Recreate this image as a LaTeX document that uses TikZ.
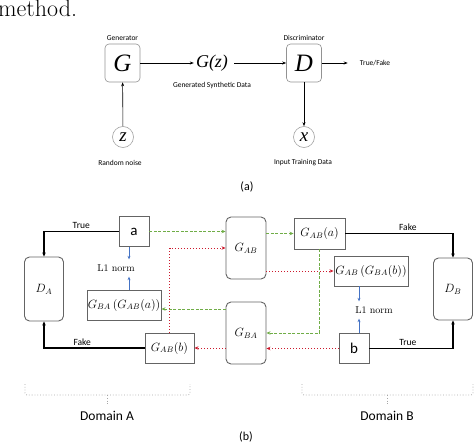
\documentclass[tikz,border=0pt]{standalone}
\usepackage{fontspec}
\newfontfamily\calib{Carlito}
\newfontfamily\timesf{Liberation Serif}
\usetikzlibrary{arrows.meta,positioning}
\definecolor{gline}{RGB}{112,173,71}
\definecolor{rline}{RGB}{205,25,45}
\definecolor{bline}{RGB}{68,114,196}
\definecolor{bord}{RGB}{100,100,100}
\begin{document}
\begin{tikzpicture}[x=1pt,y=-1pt,
  every node/.style={inner sep=0pt},
  lbl/.style={font=\calib\fontsize{7.5}{9}\selectfont},
  lblb/.style={font=\calib\fontsize{9.5}{11}\selectfont},
  big/.style={font=\timesf\itshape\fontsize{25}{25}\selectfont},
  mth/.style={font=\fontsize{12}{14}\selectfont},
  rbox/.style={draw=bord!70,rounded corners=4pt,line width=0.6pt},
  rboxb/.style={draw=bord,rounded corners=5pt,line width=0.9pt,mth},
  sbox/.style={draw=bord,line width=0.9pt,mth},
  cir/.style={draw=bord!60,circle,minimum size=21,line width=0.6pt},
  arr/.style={-{Stealth[length=4pt,width=3pt]},line width=0.6pt},
  blk/.style={-{Stealth[length=4pt,width=3.5pt]},line width=1.1pt},
  grn/.style={-{Stealth[length=4pt,width=3.5pt]},gline,dash pattern=on 3pt off 1.5pt,line width=1pt},
  rdot/.style={-{Stealth[length=4pt,width=3.5pt]},rline,dotted,line width=1pt},
  barr/.style={-{Stealth[length=3.5pt,width=3pt]},bline,line width=0.9pt},
  brc/.style={draw=gray!70,dotted,line width=0.8pt,rounded corners=2pt}]
  \useasboundingbox (0,0) rectangle (474,444);
  \node[anchor=base west] (title) at (-2,17) {\fontsize{24}{24}\selectfont method.};

  % (a) plain GAN
  \node[rbox,minimum width=35,minimum height=38,big] (G) at (122.5,63) {G};
  \node[lbl,above=3pt of G] (gname) {Generator};
  \node[font=\timesf\itshape\fontsize{18}{18}\selectfont] (Gz) at (212,63) {G(z)};
  \node[lbl] (gsd) at (212,86) {Generated Synthetic Data};
  \node[rbox,minimum width=35,minimum height=38,big] (D) at (304,63) {D};
  \node[lbl,above=3pt of D] (dname) {Discriminator};
  \node[lbl] (tf) at (375,63) {True/Fake};
  \node[cir,font=\timesf\itshape\fontsize{19}{19}\selectfont] (z) at (123,137) {z};
  \node[lbl] (noise) at (120,163) {Random noise};
  \node[cir,font=\timesf\itshape\fontsize{19}{19}\selectfont] (x) at (304,137) {x};
  \node[lbl] (itd) at (303,163) {Input Training Data};
  \node[font=\calib\fontsize{12}{14}\selectfont] (capa) at (247,187) {(a)};
  \draw[arr] (G) -- ([xshift=-2pt]Gz.west);
  \draw[arr,shorten <=6pt] (Gz) -- (D);
  \draw[arr,shorten >=12pt] (D) -- (tf);
  \draw[arr] (z) -- (G);
  \draw[arr] (D) -- (x);

  % (b) CycleGAN
  \node[rboxb,minimum width=39,minimum height=64] (DA) at (44,289) {$D_A$};
  \node[sbox,minimum size=30,font=\calib\fontsize{15}{15}\selectfont] (a) at (134,231.5) {a};
  \node[sbox,minimum width=74,minimum height=30] (gbaa) at (124,305) {$G_{BA}\,(G_{AB}(a))$};
  \node[sbox,minimum width=49,minimum height=30] (gabb) at (169.5,348) {$G_{AB}(b)$};
  \node[rboxb,minimum width=40,minimum height=62] (GAB) at (246,248) {$G_{AB}$};
  \node[rboxb,minimum width=40,minimum height=62] (GBA) at (246,333) {$G_{BA}$};
  \node[sbox,minimum width=51,minimum height=31] (gaba) at (319.5,233.5) {$G_{AB}(a)$};
  \node[sbox,minimum width=74,minimum height=30] (gabba) at (371,271) {$G_{AB}\,(G_{BA}(b))$};
  \node[rboxb,minimum width=39,minimum height=62] (DB) at (453,289) {$D_B$};
  \node[sbox,minimum size=30,font=\calib\fontsize{15}{15}\selectfont] (b) at (354,348.5) {b};
  \node[inner sep=5pt,font=\fontsize{10}{12}\selectfont] (l1a) at (116,268) {L1 norm};
  \node[inner sep=5pt,font=\fontsize{10}{12}\selectfont] (l1b) at (374,310) {L1 norm};

  \draw[blk] (a.west) -| node[lblb,above=2pt,pos=.25] {True} (DA.north);
  \draw[blk] (gabb.west) -| node[lblb,above=2pt,pos=.31] {Fake} (DA.south);
  \draw[blk] (gaba.east) -| node[lblb,above=2pt,pos=.29] {Fake} (DB.north);
  \draw[blk] (b.east) -| node[lblb,above=2pt,pos=.23] {True} (DB.south);

  \coordinate (gin) at ([yshift=-4pt]gbaa.east);
  \draw[grn] (a.east) -- (a.east -| GAB.west);
  \draw[grn] (GAB.east |- gaba.west) -- (gaba.west);
  \draw[grn] (gaba.south) |- (GBA.east);
  \draw[grn] (GBA.west |- gin) -- (gin);

  \draw[rdot] (gabb.north) |- (GAB.west);
  \draw[rdot] (GAB.east |- gabba.west) -- (gabba.west);
  \draw[rdot] (b.west) -- (b.west -| GBA.east);
  \draw[rdot] (GBA.west |- gabb.east) -- (gabb.east);

  % L1 norm arrows
  \coordinate (ua) at ([xshift=-5pt]a.south);
  \coordinate (ub) at ([xshift=5pt]b.north);
  \draw[barr] (ua) -- (ua |- l1a.north);
  \draw[barr] (ua |- gbaa.north) -- (ua |- l1a.south);
  \draw[barr] (ub |- gabba.south) -- (ub |- l1b.north);
  \draw[barr] (ub) -- (ub |- l1b.south);

  % domains
  \draw[brc] (25,384) -- (25,395) -- (190,395) -- (190,384);
  \draw[brc] (107,395) -- (107,405);
  \draw[brc] (302,384) -- (302,395) -- (473,395) -- (473,384);
  \draw[brc] (387,395) -- (387,405);
  \node[font=\calib\fontsize{13.5}{15}\selectfont] (doma) at (107,416) {Domain A};
  \node[font=\calib\fontsize{13.5}{15}\selectfont] (domb) at (387,416) {Domain B};
  \node[font=\calib\fontsize{12}{14}\selectfont] (capb) at (246,437) {(b)};
\end{tikzpicture}
\end{document}
